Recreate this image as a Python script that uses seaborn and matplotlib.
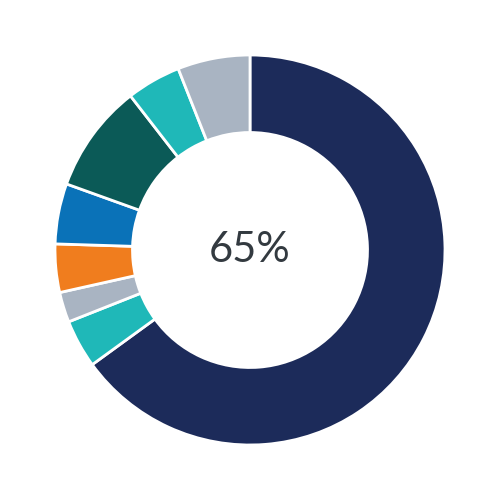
import matplotlib
matplotlib.use('Agg')
import matplotlib.pyplot as plt
import seaborn as sns

sns.set_theme(style='white')
plt.rcParams['font.family'] = ['Lato', 'DejaVu Sans']

# clockwise from 12 o'clock
labels = ['Main', 'Teal A', 'Gray A', 'Orange', 'Blue', 'Dark green', 'Teal B', 'Gray B']
values = [65, 4, 2.5, 4, 5, 9, 4.5, 6]
colors = ['#1c2b5a', '#1fb8b8', '#a9b4c2', '#f07d1e', '#0a72b8', '#0b5a57', '#1fb8b8', '#a9b4c2']
center_text = '65%'

fig, ax = plt.subplots(figsize=(5, 5), dpi=100)
ax.pie(values, colors=colors, startangle=90, counterclock=False, radius=0.78,
       wedgeprops=dict(width=0.31, edgecolor='white', linewidth=2))
ax.text(0, 0, center_text, ha='center', va='center', fontsize=30, color='#333a40')
ax.set_aspect('equal')
ax.set_xlim(-1, 1)
ax.set_ylim(-1, 1)
ax.axis('off')
plt.subplots_adjust(0, 0, 1, 1)
plt.savefig('out.png', dpi=100)
